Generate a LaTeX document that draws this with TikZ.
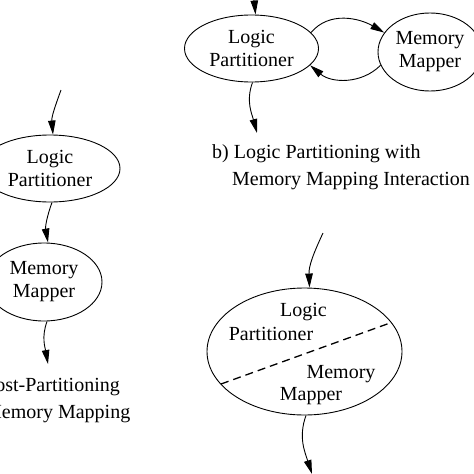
\documentclass[tikz,border=0pt]{standalone}
\usepackage{fontspec}
\setmainfont{Liberation Serif}
\usetikzlibrary{shapes.geometric,arrows.meta}
\begin{document}
\begin{tikzpicture}[x=1pt,y=-1pt,
  ell/.style={draw,ellipse,inner sep=0pt,line width=0.9pt,align=center,
    font=\fontsize{20}{23}\selectfont},
  txt/.style={inner sep=0pt,anchor=base,font=\fontsize{20}{23}\selectfont},
  captext/.style={inner sep=0pt,anchor=base west,font=\fontsize{20}{23}\selectfont},
  conn/.style={line width=0.9pt,-{Triangle[length=14pt,width=7.5pt]}},
  divider/.style={line width=1.3pt,dash pattern=on 8pt off 5pt}]
\useasboundingbox (0,0) rectangle (474,474);
% (b) top right
\node[ell,minimum width=134pt,minimum height=67pt] (LPb) at (251.5,48.5) {Logic\\Partitioner};
\node[ell,minimum width=104pt,minimum height=78pt] (MMb) at (430,52) {Memory\\Mapper};
\coordinate (inb) at (252,-10);
\coordinate (outb) at (257,133);
\draw[conn] (inb) to[out=-80,in=95] ([xshift=4pt]LPb.north);
\draw[conn] (LPb.15) to[out=50,in=150] (MMb.157);
\draw[conn] (MMb.195) to[out=225,in=-40] (LPb.344);
\draw[conn] ([xshift=1pt]LPb.south) to[out=250,in=105] (outb);
\node[captext] (capb1) at (212,158) {b) Logic Partitioning with};
\node[captext] (capb2) at (232,185) {Memory Mapping Interaction};
% (a) left
\node[ell,minimum width=140pt,minimum height=67pt] (LPa) at (50,168.5) {Logic\\Partitioner};
\node[ell,minimum width=116pt,minimum height=78pt] (MMa) at (44,282) {Memory\\Mapper};
\coordinate (ina) at (61,90);
\coordinate (outa) at (48,364);
\draw[conn] (ina) to[out=250,in=95] ([xshift=3pt]LPa.north);
\draw[conn] ([xshift=2pt]LPa.south) to[out=250,in=100] ([xshift=4pt]MMa.north);
\draw[conn] ([xshift=3pt]MMa.south) to[out=250,in=100] (outa);
\node[captext] (capa1) at (-36.5,391) {a) Post-Partitioning};
\node[captext] (capa2) at (-16,418) {Memory Mapping};
% (c) bottom right
\node[ell,minimum width=195pt,minimum height=127pt] (LMc) at (304.5,351.5) {};
\coordinate (inc) at (323,233);
\coordinate (outc) at (312,474);
\draw[conn] (inc) to[out=245,in=92] ([xshift=5pt]LMc.north);
\draw[conn] ([xshift=1.5pt]LMc.south) to[out=250,in=108] (outc);
\coordinate (d1) at (221,384);
\coordinate (d2) at (390,323);
\draw[divider] (d1) -- (d2);
\node[txt] (lc1) at (303.5,316) {Logic};
\node[txt] (lc2) at (271,340) {Partitioner};
\node[txt] (lc3) at (341,378) {Memory};
\node[txt] (lc4) at (311,400) {Mapper};
\end{tikzpicture}
\end{document}
